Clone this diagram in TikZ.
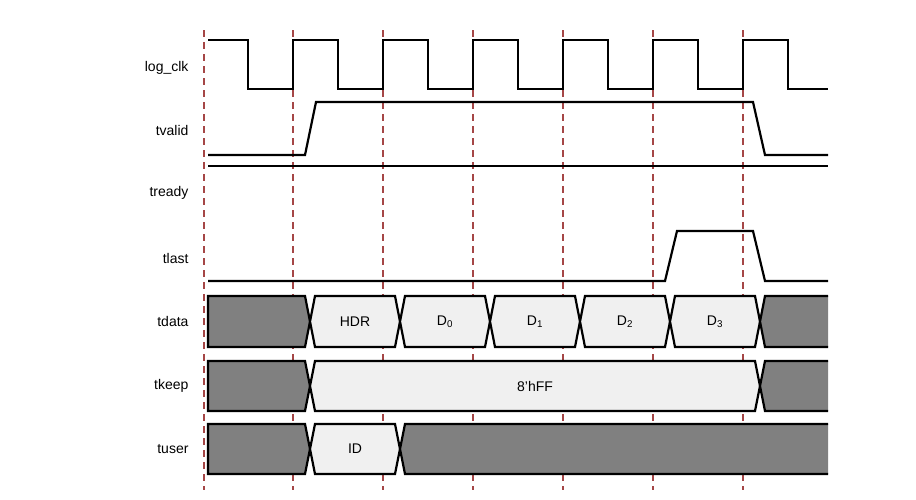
\documentclass[tikz,border=0pt]{standalone}
\usepackage{fontspec}
\setmainfont{Liberation Sans}
\definecolor{grid}{RGB}{165,70,70}
\definecolor{darkbus}{RGB}{128,128,128}
\definecolor{lightbus}{RGB}{240,240,240}
\begin{document}
\begin{tikzpicture}[x=1pt,y=-1pt,
  sig/.style={line width=2.2pt,line join=miter},
  gridline/.style={grid,line width=1.2pt,dash pattern=on 7pt off 5pt},
  lbl/.style={anchor=east,font=\fontsize{14}{16}\selectfont},
  val/.style={font=\fontsize{14}{16}\selectfont}]
\useasboundingbox (0,0) rectangle (916,499);
\foreach \x in {204,293,383,473,563,653,743} \draw[gridline] (\x,30) -- (\x,490);
% labels
\node[lbl] (l1) at (192,68) {log\_clk};
\node[lbl] (l2) at (192,130) {tvalid};
\node[lbl] (l3) at (192,193) {tready};
\node[lbl] (l4) at (192,258) {tlast};
\node[lbl] (l5) at (192,321) {tdata};
\node[lbl] (l6) at (192,386) {tkeep};
\node[lbl] (l7) at (192,449) {tuser};
% clock
\draw[sig] (208,40) -- (248,40) -- (248,89) -- (293,89) -- (293,40) -- (338,40) -- (338,89) -- (383,89) -- (383,40) -- (428,40) -- (428,89) -- (473,89) -- (473,40) -- (518,40) -- (518,89) -- (563,89) -- (563,40) -- (608,40) -- (608,89) -- (653,89) -- (653,40) -- (698,40) -- (698,89) -- (743,89) -- (743,40) -- (788,40) -- (788,89) -- (828,89);
% tvalid
\draw[sig] (208,155) -- (305,155) -- (316,102) -- (753,102) -- (765,155) -- (828,155);
% tready
\draw[sig] (208,166) -- (828,166);
% tlast
\draw[sig] (208,281) -- (665,281) -- (677,231) -- (753,231) -- (765,281) -- (828,281);
% buses
\newcommand{\busfirst}[4]{% a b ytop ybot fill
  \filldraw[sig,fill=darkbus] (208,#3) -- (#1-5,#3) -- (#1,{(#3+#4)/2}) -- (#1-5,#4) -- (208,#4) -- cycle;}
\newcommand{\busseg}[6]{% a b top bot fill label
  \filldraw[sig,fill=#5] (#1,{(#3+#4)/2}) -- (#1+5,#3) -- (#2-5,#3) -- (#2,{(#3+#4)/2}) -- (#2-5,#4) -- (#1+5,#4) -- cycle;
  \node[val] at ({(#1+#2)/2},{(#3+#4)/2}) {#6};}
\newcommand{\buslast}[3]{% a top bot
  \fill[darkbus] (#1,{(#2+#3)/2}) -- (#1+5,#2) -- (828,#2) -- (828,#3) -- (#1+5,#3) -- cycle;
  \draw[sig] (828,#2) -- (#1+5,#2) -- (#1,{(#2+#3)/2}) -- (#1+5,#3) -- (828,#3);}
% tdata
\busfirst{310}{0}{296}{347}
\busseg{310}{400}{296}{347}{lightbus}{HDR}
\busseg{400}{490}{296}{347}{lightbus}{D\textsubscript{0}}
\busseg{490}{580}{296}{347}{lightbus}{D\textsubscript{1}}
\busseg{580}{670}{296}{347}{lightbus}{D\textsubscript{2}}
\busseg{670}{760}{296}{347}{lightbus}{D\textsubscript{3}}
\buslast{760}{296}{347}
% tkeep
\busfirst{310}{0}{361}{411}
\busseg{310}{760}{361}{411}{lightbus}{8'hFF}
\buslast{760}{361}{411}
% tuser
\busfirst{310}{0}{424}{474}
\busseg{310}{400}{424}{474}{lightbus}{ID}
\buslast{400}{424}{474}
\end{tikzpicture}
\end{document}
